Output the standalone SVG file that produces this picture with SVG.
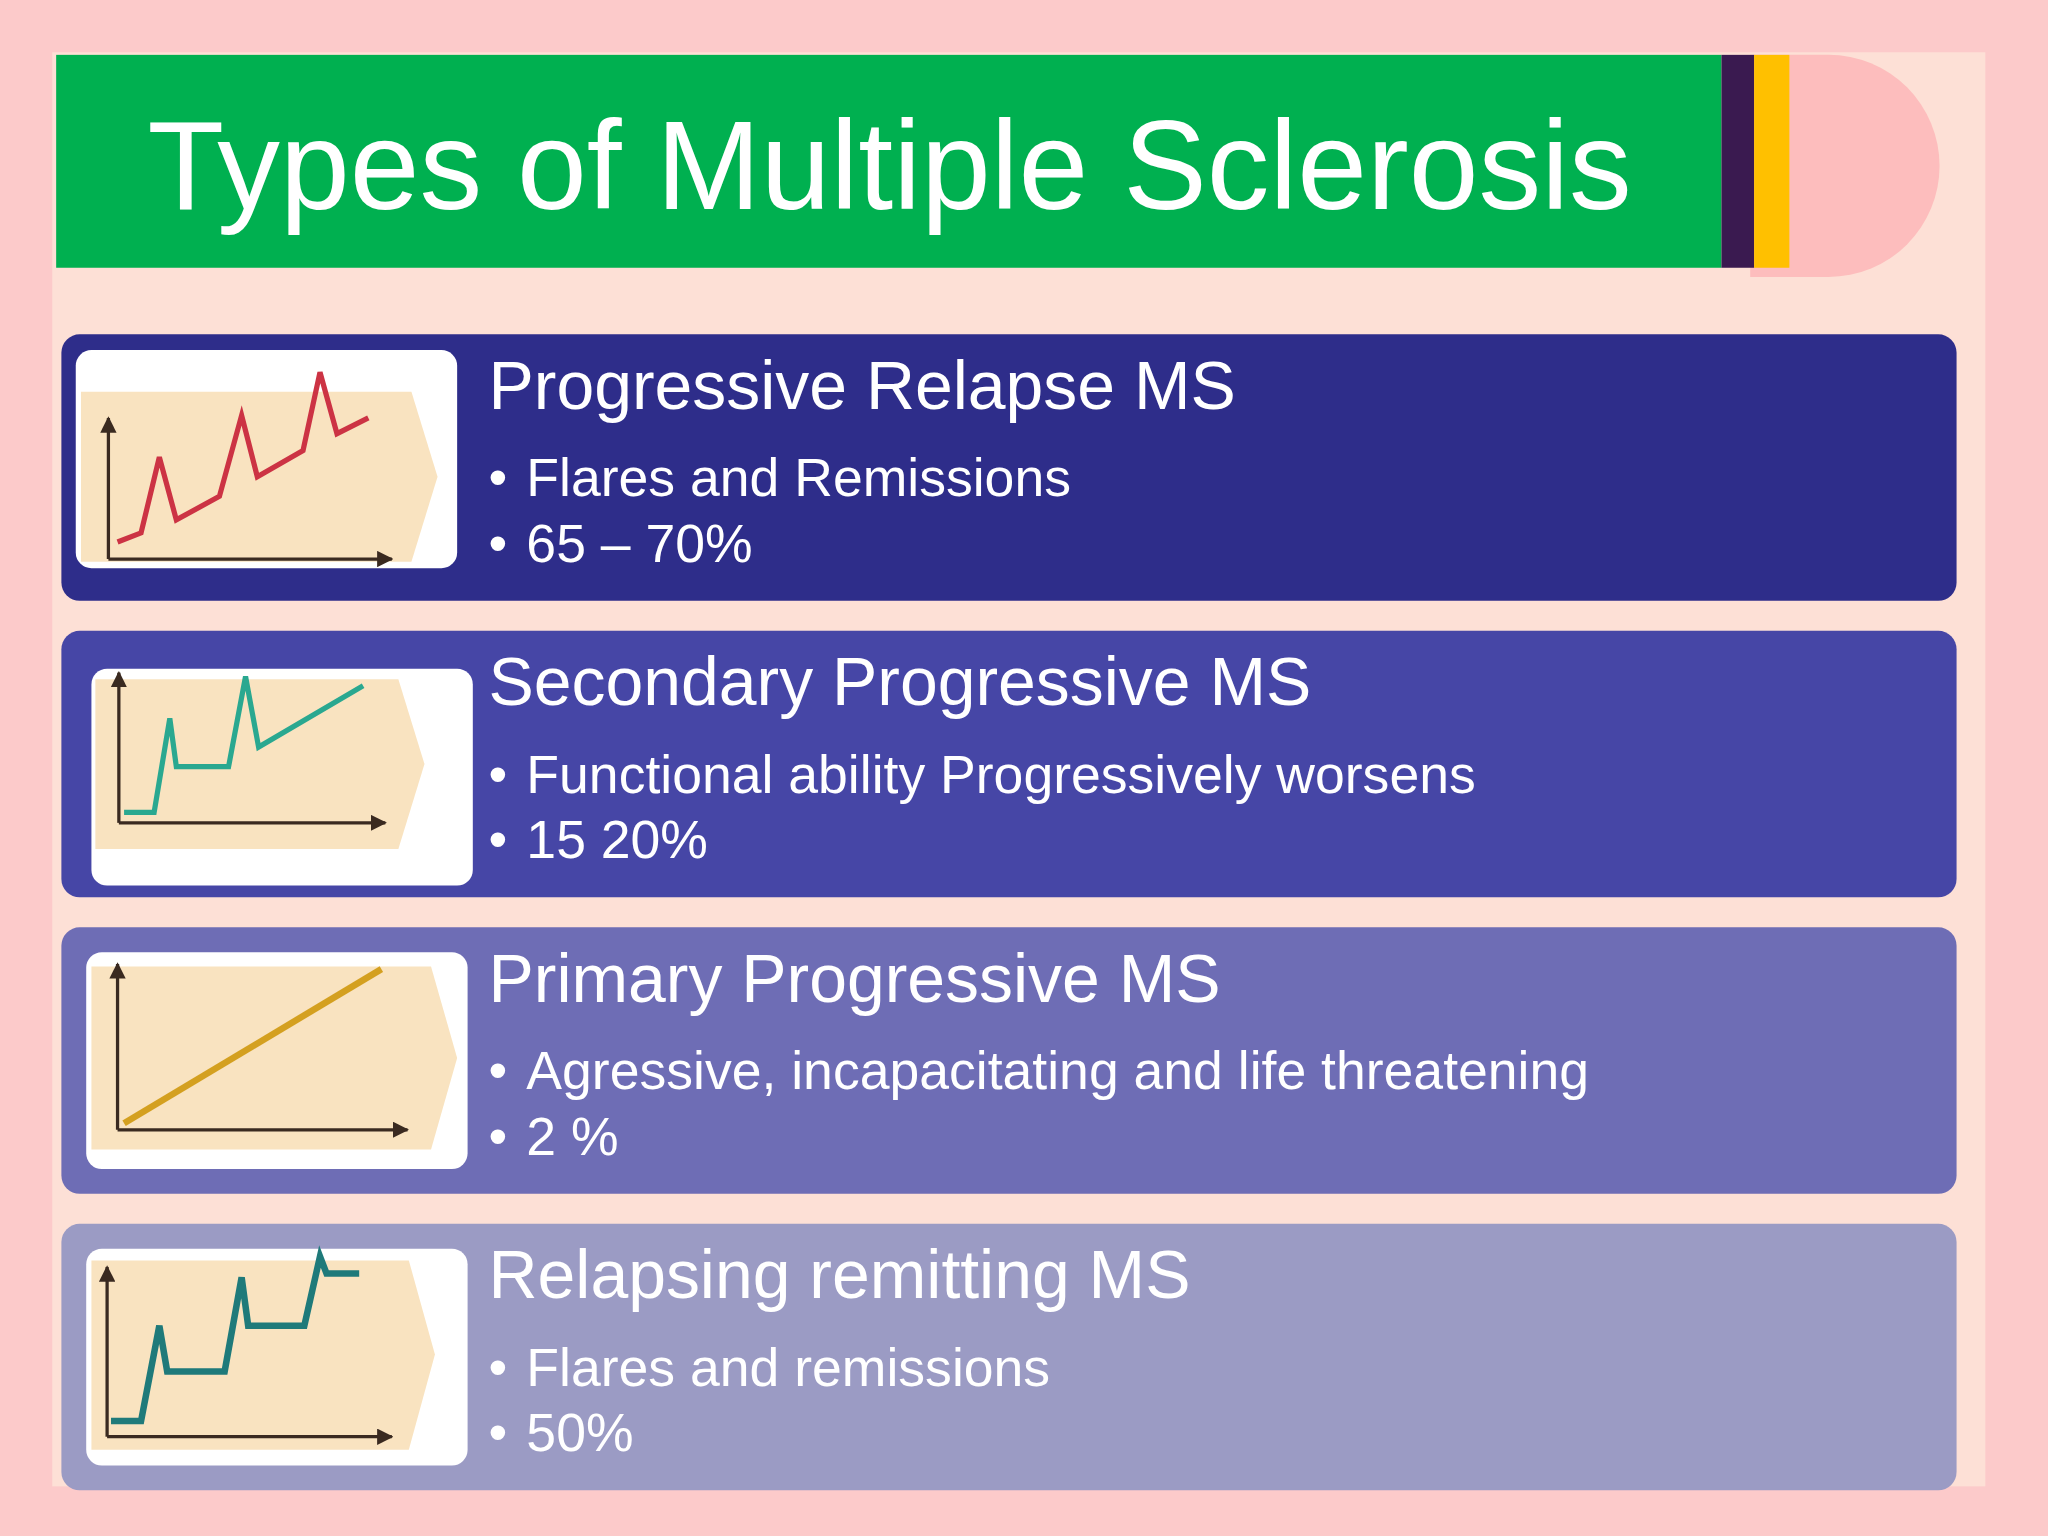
<svg xmlns="http://www.w3.org/2000/svg" width="2048" height="1536" viewBox="0 0 2048 1536">
<style>
.h{font-family:"Liberation Sans",Arial,sans-serif;fill:#fff;font-size:52px}
.b{font-family:"Liberation Sans",Arial,sans-serif;fill:#fff;font-size:41px}
.ax{stroke:#3a2a20;stroke-width:2.5;fill:none}
.card{fill:#fff}
.bg{fill:#f9e3c0}
</style>
<defs><marker id="ar" viewBox="0 0 10 10" refX="9" refY="5" markerWidth="5" markerHeight="5" orient="auto"><path d="M0,0L10,5L0,10z" fill="#3a2a20"/></marker></defs>
<rect width="2048" height="1536" fill="#fccaca"/>
<g transform="scale(1.30612)">
<rect x="40" y="40" width="1480" height="1098" fill="#fde0d6"/>
<g id="title">
<path d="M1340,42 H1400 A85,85 0 0 1 1400,212 H1340 Z" fill="#fdbdbd"/>
<rect x="43" y="42" width="1275" height="163" fill="#00b050"/>
<rect x="1318" y="42" width="25" height="163" fill="#3a1a50"/>
<rect x="1343" y="42" width="27" height="163" fill="#ffc000"/>
<text x="113" y="160" font-family="'Liberation Sans',Arial,sans-serif" font-size="96" fill="#fff">Types of Multiple Sclerosis</text>
</g>
<g id="row1">
<rect x="47" y="256" width="1451" height="204" rx="14" fill="#2e2d8a"/>
<rect class="card" x="58" y="268" width="292" height="167" rx="12"/>
<path class="bg" d="M62,300H315L335,365L315,430H62Z"/>
<path class="ax" d="M83,428V320" marker-end="url(#ar)"/><path class="ax" d="M83,428H300" marker-end="url(#ar)"/>
<polyline points="90,415 108,408 122,350 135,398 168,380 185,318 197,365 232,345 245,285 258,332 282,320" fill="none" stroke="#cc3344" stroke-width="4"/>
<text class="h" x="374" y="313">Progressive Relapse MS</text>
<text class="b" x="374" y="380">•</text><text class="b" x="403" y="380">Flares and Remissions</text>
<text class="b" x="374" y="430">•</text><text class="b" x="403" y="430">65 – 70%</text>
</g>
<g id="row2">
<rect x="47" y="483" width="1451" height="204" rx="14" fill="#4646a6"/>
<rect class="card" x="70" y="512" width="292" height="166" rx="12"/>
<path class="bg" d="M73,520H305L325,585L305,650H73Z"/>
<path class="ax" d="M91,630V515" marker-end="url(#ar)"/><path class="ax" d="M91,630H295" marker-end="url(#ar)"/>
<polyline points="95,622 118,622 130,550 135,587 175,587 188,518 198,572 278,525" fill="none" stroke="#2aa890" stroke-width="4"/>
<text class="h" x="374" y="540">Secondary Progressive MS</text>
<text class="b" x="374" y="607">•</text><text class="b" x="403" y="607">Functional ability Progressively worsens</text>
<text class="b" x="374" y="657">•</text><text class="b" x="403" y="657">15 20%</text>
</g>
<g id="row3">
<rect x="47" y="710" width="1451" height="204" rx="14" fill="#6e6db5"/>
<rect class="card" x="66" y="729" width="292" height="166" rx="12"/>
<path class="bg" d="M70,740H330L350,810L330,880H70Z"/>
<path class="ax" d="M90,865V738" marker-end="url(#ar)"/><path class="ax" d="M90,865H312" marker-end="url(#ar)"/>
<line x1="95" y1="860" x2="292" y2="742" stroke="#d4a020" stroke-width="5"/>
<text class="h" x="374" y="767">Primary Progressive MS</text>
<text class="b" x="374" y="834">•</text><text class="b" x="403" y="834">Agressive, incapacitating and life threatening</text>
<text class="b" x="374" y="884">•</text><text class="b" x="403" y="884">2 %</text>
</g>
<g id="row4">
<rect x="47" y="937" width="1451" height="204" rx="14" fill="#9b9bc4"/>
<rect class="card" x="66" y="956" width="292" height="166" rx="12"/>
<path class="bg" d="M70,965H313L333,1037L313,1110H70Z"/>
<path class="ax" d="M82,1100V970" marker-end="url(#ar)"/><path class="ax" d="M82,1100H300" marker-end="url(#ar)"/>
<polyline points="85,1088 108,1088 122,1015 128,1050 172,1050 185,978 190,1015 233,1015 245,962 250,975 275,975" fill="none" stroke="#1f7a7a" stroke-width="5"/>
<text class="h" x="374" y="994">Relapsing remitting MS</text>
<text class="b" x="374" y="1061">•</text><text class="b" x="403" y="1061">Flares and remissions</text>
<text class="b" x="374" y="1111">•</text><text class="b" x="403" y="1111">50%</text>
</g>
</g>
</svg>
